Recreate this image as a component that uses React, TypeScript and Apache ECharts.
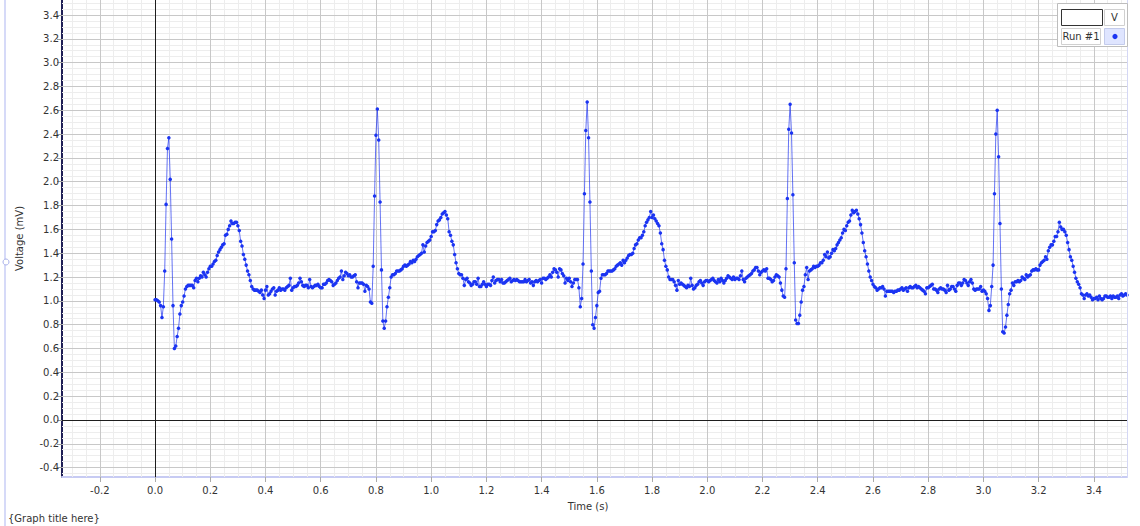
import React, { useEffect, useRef } from "react";
import * as echarts from "echarts";

// ---------- data (voltage in mV, sampled every 0.005 s) ----------
const SAMPLE_STEP = 0.005;

const seg1Start = 0;
const seg1 = [
  1.01, 1.01, 1.0, 0.99, 0.96, 0.86, 0.95, 1.25, 1.81, 2.28,
  2.37, 2.02, 1.52, 0.96, 0.6, 0.62, 0.7, 0.77, 0.89, 0.96,
  0.99, 1.04, 1.1, 1.12, 1.13, 1.13, 1.13, 1.13, 1.11, 1.17,
  1.19, 1.16, 1.19, 1.21, 1.2, 1.24, 1.22, 1.2, 1.24, 1.27,
  1.29, 1.29, 1.31, 1.33, 1.34, 1.38, 1.41, 1.43, 1.45, 1.47,
  1.48, 1.55, 1.56, 1.6, 1.63, 1.67, 1.65, 1.65, 1.66, 1.66,
  1.63, 1.59, 1.5, 1.46, 1.39, 1.35, 1.3, 1.25, 1.22, 1.17,
  1.12, 1.1, 1.09, 1.09, 1.09, 1.08, 1.07, 1.09, 1.05, 1.02,
  1.09, 1.12, 1.05, 1.06, 1.08, 1.1, 1.11, 1.05, 1.08, 1.09,
  1.11, 1.09, 1.1, 1.1, 1.09, 1.11, 1.12,
];

const seg2Start = 0.485;
const seg2 = [
  1.13, 1.19, 1.09, 1.11, 1.12, 1.12, 1.13, 1.15, 1.19, 1.16,
  1.13, 1.12, 1.13, 1.13, 1.11, 1.18, 1.12, 1.11, 1.12, 1.13,
  1.13, 1.14, 1.12, 1.11, 1.11, 1.14, 1.14, 1.15, 1.17, 1.18,
  1.17, 1.16, 1.13, 1.14, 1.15, 1.17, 1.19, 1.2, 1.25, 1.18,
  1.21, 1.24, 1.23, 1.21, 1.22, 1.2, 1.2, 1.21, 1.22, 1.16,
  1.11, 1.15, 1.15, 1.15, 1.14, 1.08, 1.13, 1.12, 1.1, 0.99,
  0.98, 1.29, 1.88, 2.39, 2.61, 2.35, 1.83, 1.26, 0.83, 0.77,
  0.83, 0.95, 1.03, 1.11, 1.2, 1.22, 1.22, 1.23, 1.25, 1.25,
  1.25, 1.26, 1.27, 1.29, 1.3, 1.29, 1.3, 1.31, 1.33, 1.32,
  1.34, 1.33, 1.35, 1.37, 1.38, 1.39, 1.4, 1.47, 1.41, 1.46,
  1.49, 1.5, 1.51, 1.54, 1.58, 1.58, 1.59, 1.64, 1.67, 1.68,
  1.7, 1.73, 1.74, 1.75, 1.72, 1.69, 1.58,
];

const seg3Start = 1.07;
const seg3 = [
  1.55, 1.5, 1.47, 1.39, 1.32, 1.27, 1.23, 1.22, 1.22, 1.19,
  1.13, 1.18, 1.19, 1.16, 1.15, 1.13, 1.14, 1.16, 1.16, 1.14,
  1.19, 1.12, 1.12, 1.14, 1.16, 1.14, 1.12, 1.14, 1.14, 1.13,
  1.17, 1.2, 1.15, 1.17, 1.18, 1.18, 1.16, 1.18, 1.15, 1.15,
  1.16, 1.17, 1.18, 1.19, 1.16, 1.17, 1.18, 1.17, 1.18, 1.17,
  1.16, 1.16, 1.16, 1.16, 1.18, 1.16, 1.17, 1.18, 1.15, 1.16,
  1.13, 1.16, 1.17, 1.16, 1.17, 1.18, 1.15, 1.19, 1.19, 1.18,
  1.19, 1.2, 1.22, 1.2, 1.24, 1.27, 1.26, 1.24, 1.2, 1.27,
  1.26, 1.23, 1.21, 1.15, 1.19, 1.17, 1.19, 1.16, 1.12, 1.15,
  1.18, 1.18, 1.18, 1.11, 0.95, 1.02, 1.31, 1.9, 2.43, 2.67,
  2.37, 1.83, 1.25, 0.8, 0.77, 0.86, 0.96, 1.07, 1.08, 1.19,
  1.22, 1.22, 1.22, 1.23, 1.25,
];

const seg4Start = 1.645;
const seg4 = [
  1.25, 1.25, 1.25, 1.26, 1.27, 1.29, 1.3, 1.31, 1.32, 1.3,
  1.34, 1.32, 1.34, 1.36, 1.38, 1.39, 1.39, 1.4, 1.44, 1.47,
  1.48, 1.51, 1.53, 1.53, 1.55, 1.58, 1.63, 1.66, 1.68, 1.7,
  1.75, 1.7, 1.72, 1.69, 1.67, 1.65, 1.63, 1.57, 1.48, 1.43,
  1.34, 1.29, 1.26, 1.2, 1.18, 1.18, 1.18, 1.16, 1.13, 1.09,
  1.17, 1.14, 1.15, 1.14, 1.13, 1.12, 1.11, 1.13, 1.12, 1.19,
  1.13, 1.1, 1.11, 1.13, 1.14, 1.16, 1.17, 1.15, 1.13, 1.16,
  1.17, 1.17, 1.16, 1.17, 1.18, 1.19, 1.17, 1.16, 1.15, 1.18,
  1.16, 1.19, 1.17, 1.15, 1.17, 1.19, 1.21, 1.2, 1.19, 1.18,
  1.2, 1.18, 1.19, 1.19, 1.18, 1.21, 1.25, 1.18, 1.16, 1.19,
  1.2, 1.21, 1.22, 1.23, 1.25, 1.26, 1.28, 1.28, 1.25, 1.22,
  1.24, 1.25, 1.26, 1.25, 1.27, 1.19,
];

const seg5Start = 2.225;
const seg5 = [
  1.19, 1.18, 1.16, 1.17, 1.2, 1.22, 1.21, 1.2, 1.15, 1.09,
  1.04, 1.03, 1.27, 1.86, 2.44, 2.65, 2.41, 1.89, 1.32, 0.84,
  0.81, 0.81, 0.88, 0.99, 1.09, 1.12, 1.22, 1.28, 1.18, 1.25,
  1.26, 1.27, 1.29, 1.28, 1.29, 1.29, 1.3, 1.32, 1.32, 1.34,
  1.39, 1.37, 1.41, 1.36, 1.37, 1.4, 1.43, 1.42, 1.44, 1.47,
  1.49, 1.51, 1.53, 1.57, 1.6, 1.59, 1.63, 1.66, 1.67, 1.72,
  1.76, 1.74, 1.75, 1.76, 1.73, 1.69, 1.64, 1.57, 1.49, 1.42,
  1.37, 1.31, 1.25, 1.2, 1.17, 1.14, 1.12, 1.11, 1.09, 1.1,
  1.11, 1.11, 1.12, 1.1, 1.04, 1.08, 1.08, 1.08, 1.08, 1.08,
  1.07, 1.08, 1.08, 1.09, 1.09, 1.1, 1.11, 1.09, 1.1, 1.11,
  1.08, 1.11, 1.12, 1.11, 1.11, 1.12, 1.13, 1.11, 1.12, 1.11,
  1.1, 1.09, 1.08, 1.06, 1.11,
];

const seg6Start = 2.8;
const seg6 = [
  1.11, 1.12, 1.13, 1.14, 1.1, 1.1, 1.09, 1.07, 1.1, 1.11,
  1.1, 1.1, 1.09, 1.07, 1.13, 1.09, 1.1, 1.12, 1.12, 1.1,
  1.08, 1.13, 1.15, 1.15, 1.13, 1.15, 1.18, 1.17, 1.15, 1.13,
  1.16, 1.18, 1.15, 1.1, 1.09, 1.1, 1.1, 1.1, 1.12, 1.08,
  1.09, 1.08, 1.06, 1.02, 0.92, 0.96, 1.12, 1.3, 1.9, 2.4,
  2.6, 2.21, 1.65, 1.1, 0.74, 0.73, 0.78, 0.88, 0.97, 1.06,
  1.09, 1.15, 1.13, 1.16, 1.16, 1.17, 1.16, 1.17, 1.2, 1.19,
  1.18, 1.22, 1.2, 1.21, 1.22, 1.25, 1.26, 1.26, 1.27, 1.26,
  1.26, 1.3, 1.32, 1.33, 1.34, 1.37, 1.35, 1.42, 1.45, 1.47,
  1.47, 1.5, 1.54, 1.54, 1.58, 1.66, 1.62, 1.6, 1.6, 1.58,
  1.55, 1.49, 1.43, 1.37, 1.34, 1.29, 1.24, 1.19, 1.16, 1.14,
  1.11, 1.06, 1.05, 1.02, 1.05, 1.06,
];

const seg7Start = 3.38;
const seg7 = [
  1.04, 1.05, 1.03, 1.01, 1.02, 1.02, 1.03, 1.01, 1.04, 1.02,
  1.01, 1.02, 1.04, 1.04, 1.03, 1.03, 1.04, 1.02, 1.04, 1.03,
  1.03, 1.04, 1.02, 1.05, 1.06, 1.04, 1.05, 1.06, 1.05,
];

const segments: [number, number[]][] = [
  [seg1Start, seg1],
  [seg2Start, seg2],
  [seg3Start, seg3],
  [seg4Start, seg4],
  [seg5Start, seg5],
  [seg6Start, seg6],
  [seg7Start, seg7],
];

// tick labels
const xTickValues = [-0.2, 0, 0.2, 0.4, 0.6, 0.8, 1.0, 1.2, 1.4, 1.6, 1.8, 2.0, 2.2, 2.4, 2.6, 2.8, 3.0, 3.2, 3.4];
const yTickValues = [-0.4, -0.2, 0, 0.2, 0.4, 0.6, 0.8, 1.0, 1.2, 1.4, 1.6, 1.8, 2.0, 2.2, 2.4, 2.6, 2.8, 3.0, 3.2, 3.4];

const X_MIN = -0.337;
const X_MAX = 3.52;
const Y_MIN = -0.479;
const Y_MAX = 3.526;
const MINOR_STEP = 0.05;

const FONT = "DejaVu Sans";

export default function App() {
  const ref = useRef<HTMLDivElement>(null);

  useEffect(() => {
    if (!ref.current) return;
    const chart = echarts.init(ref.current, null, { renderer: "svg" });

    const data: [number, number][] = [];
    segments.forEach(([start, vals]) => {
      vals.forEach((v, i) => {
        data.push([Math.round((start + i * SAMPLE_STEP) * 1000) / 1000, v]);
      });
    });

    const minorStyle = { color: "#ededed", width: 1, type: "solid" };
    const majorStyle = { color: "#c8c8c8", width: 1, type: "solid" };
    const zeroStyle = { color: "#1e1e1e", width: 1, type: "solid" };

    const gridLines: any[] = [];
    for (let k = Math.ceil(X_MIN / MINOR_STEP); k * MINOR_STEP <= X_MAX; k++) {
      if (k % 4 === 0) continue;
      gridLines.push({ xAxis: Math.round(k * MINOR_STEP * 1000) / 1000, lineStyle: minorStyle });
    }
    for (let k = Math.ceil(Y_MIN / MINOR_STEP); k * MINOR_STEP <= Y_MAX; k++) {
      if (k % 4 === 0) continue;
      gridLines.push({ yAxis: Math.round(k * MINOR_STEP * 1000) / 1000, lineStyle: minorStyle });
    }
    xTickValues.forEach((v) => {
      if (v !== 0) gridLines.push({ xAxis: v, lineStyle: majorStyle });
    });
    yTickValues.forEach((v) => {
      if (v !== 0) gridLines.push({ yAxis: v, lineStyle: majorStyle });
    });
    gridLines.push({ xAxis: 0, lineStyle: zeroStyle });
    gridLines.push({ yAxis: 0, lineStyle: zeroStyle });

    const labelStyle = { color: "#333", fontFamily: FONT, fontSize: 10 };

    chart.setOption({
      animation: false,
      backgroundColor: "#ffffff",
      grid: { left: 62, right: 13, top: 0, bottom: 49, containLabel: false },
      xAxis: {
        type: "value",
        min: X_MIN,
        max: X_MAX,
        name: "Time (s)",
        nameLocation: "middle",
        nameGap: 24,
        nameTextStyle: { ...labelStyle, padding: [0, 13, 0, 0] },
        splitLine: { show: false },
        axisLine: { show: true, onZero: false, lineStyle: { color: "#c7cbf3", width: 2 } },
        axisTick: { show: true, customValues: xTickValues, length: 5, lineStyle: { color: "#aaa" } },
        axisLabel: {
          customValues: xTickValues,
          formatter: (v: number) => v.toFixed(1),
          margin: 8,
          ...labelStyle,
        },
      },
      yAxis: {
        type: "value",
        min: Y_MIN,
        max: Y_MAX,
        name: "Voltage (mV)",
        nameLocation: "middle",
        nameGap: 38,
        nameRotate: 90,
        nameTextStyle: labelStyle,
        splitLine: { show: false },
        axisLine: { show: true, onZero: false, lineStyle: { color: "#1f1f55", width: 2 } },
        axisTick: { show: true, customValues: yTickValues, length: 5, lineStyle: { color: "#999" } },
        axisLabel: {
          customValues: yTickValues,
          formatter: (v: number) => v.toFixed(1),
          margin: 3,
          ...labelStyle,
        },
      },
      series: [
        {
          name: "grid",
          type: "line",
          data: data,
          z: 1,
          silent: true,
          showSymbol: false,
          lineStyle: { opacity: 0 },
          markLine: {
            silent: true,
            z: 1,
            symbol: ["none", "none"],
            label: { show: false },
            emphasis: { disabled: true },
            animation: false,
            data: gridLines,
          },
        },
        {
          name: "Run #1",
          type: "line",
          data: data,
          z: 3,
          symbol: "circle",
          symbolSize: 3.5,
          showSymbol: true,
          itemStyle: { color: "#1b34f2" },
          lineStyle: { color: "rgba(35,55,240,0.7)", width: 1 },
          emphasis: { disabled: true },
        },
      ],
      graphic: [
        {
          type: "line",
          shape: { x1: 1127.5, y1: 0, x2: 1127.5, y2: 477 },
          style: { stroke: "#d4d7f5", lineWidth: 1 },
          z: 50,
        },
        {
          type: "line",
          shape: { x1: 5, y1: 0, x2: 5, y2: 526 },
          style: { stroke: "#d6daf8", lineWidth: 2 },
          z: 50,
        },
        {
          type: "circle",
          shape: { cx: 6, cy: 262, r: 3 },
          style: { fill: "#fff", stroke: "#a8b0ea", lineWidth: 1 },
          z: 51,
        },
        {
          type: "text",
          x: 8,
          y: 513,
          style: { text: "{Graph title here}", fill: "#333", font: `10px "${FONT}"`, align: "left", verticalAlign: "top" },
          z: 50,
        },
        // legend box
        {
          type: "rect",
          shape: { x: 1057.5, y: 3.5, width: 70, height: 43 },
          style: { fill: "#fff", stroke: "#bdbdbd", lineWidth: 1 },
          z: 100,
        },
        {
          type: "rect",
          shape: { x: 1061.5, y: 9.5, width: 41, height: 16 },
          style: { fill: "#fff", stroke: "#333", lineWidth: 1 },
          z: 101,
        },
        {
          type: "rect",
          shape: { x: 1104.5, y: 9.5, width: 20, height: 16 },
          style: { fill: "#fff", stroke: "#d0d0d0", lineWidth: 1 },
          z: 101,
        },
        {
          type: "text",
          x: 1114.5,
          y: 17.5,
          style: { text: "V", fill: "#333", font: `10px "${FONT}"`, align: "center", verticalAlign: "middle" },
          z: 102,
        },
        {
          type: "rect",
          shape: { x: 1061.5, y: 28.5, width: 39, height: 16 },
          style: { fill: "#fff", stroke: "#d0d0d0", lineWidth: 1 },
          z: 101,
        },
        {
          type: "text",
          x: 1081,
          y: 36.5,
          style: { text: "Run #1", fill: "#333", font: `10px "${FONT}"`, align: "center", verticalAlign: "middle" },
          z: 102,
        },
        {
          type: "rect",
          shape: { x: 1104.5, y: 28.5, width: 20, height: 16 },
          style: { fill: "#dfe5ff", stroke: "#c3cbeb", lineWidth: 1 },
          z: 101,
        },
        {
          type: "circle",
          shape: { cx: 1115, cy: 36.5, r: 2.6 },
          style: { fill: "#1b34f2" },
          z: 102,
        },
      ],
    });

    return () => chart.dispose();
  }, []);

  return (
    <div
      ref={ref}
      style={{ position: "fixed", left: 0, top: 0, width: 1140, height: 526, background: "#fff" }}
    />
  );
}
